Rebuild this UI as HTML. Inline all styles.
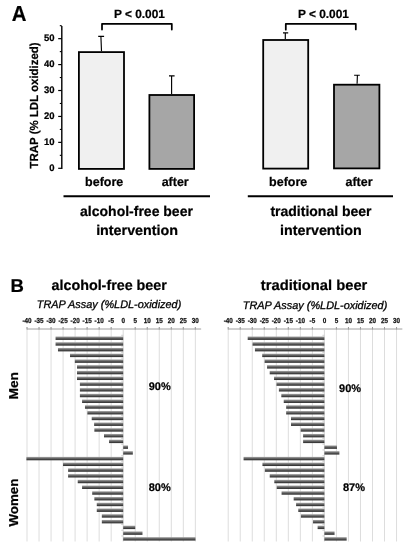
<!DOCTYPE html>
<html><head><meta charset="utf-8"><style>
html,body{margin:0;padding:0;background:#fff;}
svg{display:block;}
text{font-family:'Liberation Sans',Arial,sans-serif;fill:#000;text-rendering:geometricPrecision;}
.b{font-weight:bold;}
.b,.lab,.grp,.pv,.pc,.yt{stroke:#000;stroke-width:0.22px;}
.tk{font-weight:bold;font-size:7.2px;text-anchor:middle;fill:#111;stroke:#111;stroke-width:0.25px;}
.yt{font-weight:bold;font-size:9.5px;text-anchor:end;}
.lab{font-weight:bold;font-size:12.5px;text-anchor:middle;}
.grp{font-weight:bold;font-size:14px;text-anchor:middle;}
.pv{font-weight:bold;font-size:12px;text-anchor:middle;}
.it{font-style:italic;font-size:11.1px;stroke:#000;stroke-width:0.3px;}
.pc{font-weight:bold;font-size:11px;}
</style></head><body>
<svg width="410" height="550" viewBox="0 0 410 550">
<defs>
<linearGradient id="bg" x1="0" y1="0" x2="0" y2="1">
<stop offset="0" stop-color="#a8a8a8"/><stop offset="0.45" stop-color="#666"/><stop offset="1" stop-color="#262626"/>
</linearGradient>
</defs>
<rect width="410" height="550" fill="#fff"/>
<!-- Panel A -->
<text x="11.8" y="20.7" class="b" style="font-size:21.8px" textLength="14.7" lengthAdjust="spacingAndGlyphs">A</text>
<!-- y axis -->
<line x1="61.8" y1="26" x2="61.8" y2="168.9" stroke="#000" stroke-width="1.4"/>
<line x1="58.2" y1="168.30" x2="61.7" y2="168.30" stroke="#000" stroke-width="1.2"/>
<text x="54.6" y="171.10" class="yt">0</text>
<line x1="58.2" y1="142.37" x2="61.7" y2="142.37" stroke="#000" stroke-width="1.2"/>
<text x="54.6" y="145.17" class="yt">10</text>
<line x1="58.2" y1="116.44" x2="61.7" y2="116.44" stroke="#000" stroke-width="1.2"/>
<text x="54.6" y="119.24" class="yt">20</text>
<line x1="58.2" y1="90.51" x2="61.7" y2="90.51" stroke="#000" stroke-width="1.2"/>
<text x="54.6" y="93.31" class="yt">30</text>
<line x1="58.2" y1="64.58" x2="61.7" y2="64.58" stroke="#000" stroke-width="1.2"/>
<text x="54.6" y="67.38" class="yt">40</text>
<line x1="58.2" y1="38.65" x2="61.7" y2="38.65" stroke="#000" stroke-width="1.2"/>
<text x="54.6" y="41.45" class="yt">50</text>
<line x1="59.8" y1="155.34" x2="61.7" y2="155.34" stroke="#000" stroke-width="1.1"/>
<line x1="59.8" y1="129.41" x2="61.7" y2="129.41" stroke="#000" stroke-width="1.1"/>
<line x1="59.8" y1="103.48" x2="61.7" y2="103.48" stroke="#000" stroke-width="1.1"/>
<line x1="59.8" y1="77.55" x2="61.7" y2="77.55" stroke="#000" stroke-width="1.1"/>
<line x1="59.8" y1="51.62" x2="61.7" y2="51.62" stroke="#000" stroke-width="1.1"/>
<line x1="59.8" y1="25.69" x2="61.7" y2="25.69" stroke="#000" stroke-width="1.1"/>
<text transform="translate(37.8,105.4) rotate(-90)" class="b" style="font-size:11.7px;text-anchor:middle" textLength="126" lengthAdjust="spacingAndGlyphs">TRAP (% LDL oxidized)</text>
<!-- bars -->
<rect x="78.9" y="52.1" width="45.1" height="116.8" fill="#f0f0f0" stroke="#000" stroke-width="1.8"/>
<rect x="149.4" y="95" width="44.7" height="73.9" fill="#a6a6a6" stroke="#000" stroke-width="1.8"/>
<rect x="263.2" y="40" width="45" height="128.6" fill="#f0f0f0" stroke="#000" stroke-width="1.8"/>
<rect x="334" y="84.7" width="45.4" height="83.7" fill="#a6a6a6" stroke="#000" stroke-width="1.8"/>
<!-- error bars -->
<g stroke="#000" stroke-width="1.15" fill="none">
<path d="M101.5 51.2L100.9 36.3M98.2 36.3H104.1"/>
<path d="M171.6 94.1V75.9M169 75.9H174.6"/>
<path d="M285.3 39.1V32.8M283 32.8H288.2"/>
<path d="M357.1 83.8L357.4 75.2M354.1 75.2H359.8"/>
</g>
<!-- brackets -->
<g stroke="#000" stroke-width="1.75" fill="none" stroke-linejoin="round" stroke-linecap="round">
<path d="M102 29.6V23.75H171.8V29.5"/>
<path d="M285.8 29.7V23.8H355.8V29.4"/>
</g>
<text x="139.4" y="17.8" class="pv" textLength="51" lengthAdjust="spacingAndGlyphs">P &lt; 0.001</text>
<text x="323.4" y="17.8" class="pv" textLength="51" lengthAdjust="spacingAndGlyphs">P &lt; 0.001</text>
<!-- category labels -->
<text x="104.2" y="186" class="lab">before</text>
<text x="175.2" y="186" class="lab">after</text>
<text x="288.2" y="186" class="lab">before</text>
<text x="359" y="186" class="lab">after</text>
<g stroke="#000" stroke-width="2">
<line x1="63.5" y1="196.2" x2="210" y2="196.2"/>
<line x1="247.8" y1="196.2" x2="393" y2="196.2"/>
</g>
<text x="136.5" y="216.2" class="grp">alcohol-free beer</text>
<text x="137.1" y="235.1" class="grp" textLength="81.9" lengthAdjust="spacingAndGlyphs">intervention</text>
<text x="321" y="216.2" class="grp">traditional beer</text>
<text x="320.9" y="235.1" class="grp" textLength="81.9" lengthAdjust="spacingAndGlyphs">intervention</text>
<!-- Panel B -->
<text x="10.6" y="292" class="b" style="font-size:18.5px">B</text>
<text x="109.2" y="290" class="b" style="font-size:14.3px;text-anchor:middle">alcohol-free beer</text>
<text x="314.1" y="290.3" class="b" style="font-size:14.5px;text-anchor:middle" textLength="106.5" lengthAdjust="spacingAndGlyphs">traditional beer</text>
<text x="36.8" y="308" class="it" textLength="144.5" lengthAdjust="spacingAndGlyphs">TRAP Assay (%LDL-oxidized)</text>
<text x="242.8" y="308.5" class="it" textLength="144.5" lengthAdjust="spacingAndGlyphs">TRAP Assay (%LDL-oxidized)</text>
<text transform="translate(17.9,385.75) rotate(-90)" class="b" style="font-size:12.9px;text-anchor:middle" textLength="27.6" lengthAdjust="spacingAndGlyphs">Men</text>
<text transform="translate(17.9,502.6) rotate(-90)" class="b" style="font-size:12.9px;text-anchor:middle" textLength="48" lengthAdjust="spacingAndGlyphs">Women</text>
<line x1="27.00" y1="327" x2="27.00" y2="541.5" stroke="#dddddd" stroke-width="1"/>
<line x1="27.00" y1="327" x2="27.00" y2="329.5" stroke="#9a9a9a" stroke-width="1"/>
<line x1="39.03" y1="327" x2="39.03" y2="541.5" stroke="#dddddd" stroke-width="1"/>
<line x1="39.03" y1="327" x2="39.03" y2="329.5" stroke="#9a9a9a" stroke-width="1"/>
<line x1="51.05" y1="327" x2="51.05" y2="541.5" stroke="#dddddd" stroke-width="1"/>
<line x1="51.05" y1="327" x2="51.05" y2="329.5" stroke="#9a9a9a" stroke-width="1"/>
<line x1="63.08" y1="327" x2="63.08" y2="541.5" stroke="#dddddd" stroke-width="1"/>
<line x1="63.08" y1="327" x2="63.08" y2="329.5" stroke="#9a9a9a" stroke-width="1"/>
<line x1="75.10" y1="327" x2="75.10" y2="541.5" stroke="#dddddd" stroke-width="1"/>
<line x1="75.10" y1="327" x2="75.10" y2="329.5" stroke="#9a9a9a" stroke-width="1"/>
<line x1="87.12" y1="327" x2="87.12" y2="541.5" stroke="#dddddd" stroke-width="1"/>
<line x1="87.12" y1="327" x2="87.12" y2="329.5" stroke="#9a9a9a" stroke-width="1"/>
<line x1="99.15" y1="327" x2="99.15" y2="541.5" stroke="#dddddd" stroke-width="1"/>
<line x1="99.15" y1="327" x2="99.15" y2="329.5" stroke="#9a9a9a" stroke-width="1"/>
<line x1="111.18" y1="327" x2="111.18" y2="541.5" stroke="#dddddd" stroke-width="1"/>
<line x1="111.18" y1="327" x2="111.18" y2="329.5" stroke="#9a9a9a" stroke-width="1"/>
<line x1="135.22" y1="327" x2="135.22" y2="541.5" stroke="#dddddd" stroke-width="1"/>
<line x1="135.22" y1="327" x2="135.22" y2="329.5" stroke="#9a9a9a" stroke-width="1"/>
<line x1="147.25" y1="327" x2="147.25" y2="541.5" stroke="#dddddd" stroke-width="1"/>
<line x1="147.25" y1="327" x2="147.25" y2="329.5" stroke="#9a9a9a" stroke-width="1"/>
<line x1="159.28" y1="327" x2="159.28" y2="541.5" stroke="#dddddd" stroke-width="1"/>
<line x1="159.28" y1="327" x2="159.28" y2="329.5" stroke="#9a9a9a" stroke-width="1"/>
<line x1="171.30" y1="327" x2="171.30" y2="541.5" stroke="#dddddd" stroke-width="1"/>
<line x1="171.30" y1="327" x2="171.30" y2="329.5" stroke="#9a9a9a" stroke-width="1"/>
<line x1="183.32" y1="327" x2="183.32" y2="541.5" stroke="#dddddd" stroke-width="1"/>
<line x1="183.32" y1="327" x2="183.32" y2="329.5" stroke="#9a9a9a" stroke-width="1"/>
<line x1="195.35" y1="327" x2="195.35" y2="541.5" stroke="#dddddd" stroke-width="1"/>
<line x1="195.35" y1="327" x2="195.35" y2="329.5" stroke="#9a9a9a" stroke-width="1"/>
<line x1="27.00" y1="329.0" x2="201.15" y2="329.0" stroke="#a0a0a0" stroke-width="1"/>
<line x1="123.20" y1="329.0" x2="123.20" y2="541.5" stroke="#cfcfcf" stroke-width="0.8"/>
<line x1="121.20" y1="335.30" x2="123.20" y2="335.30" stroke="#c0c0c0" stroke-width="0.7"/>
<line x1="121.20" y1="341.03" x2="123.20" y2="341.03" stroke="#c0c0c0" stroke-width="0.7"/>
<line x1="121.20" y1="346.77" x2="123.20" y2="346.77" stroke="#c0c0c0" stroke-width="0.7"/>
<line x1="121.20" y1="352.50" x2="123.20" y2="352.50" stroke="#c0c0c0" stroke-width="0.7"/>
<line x1="121.20" y1="358.23" x2="123.20" y2="358.23" stroke="#c0c0c0" stroke-width="0.7"/>
<line x1="121.20" y1="363.97" x2="123.20" y2="363.97" stroke="#c0c0c0" stroke-width="0.7"/>
<line x1="121.20" y1="369.70" x2="123.20" y2="369.70" stroke="#c0c0c0" stroke-width="0.7"/>
<line x1="121.20" y1="375.43" x2="123.20" y2="375.43" stroke="#c0c0c0" stroke-width="0.7"/>
<line x1="121.20" y1="381.16" x2="123.20" y2="381.16" stroke="#c0c0c0" stroke-width="0.7"/>
<line x1="121.20" y1="386.90" x2="123.20" y2="386.90" stroke="#c0c0c0" stroke-width="0.7"/>
<line x1="121.20" y1="392.63" x2="123.20" y2="392.63" stroke="#c0c0c0" stroke-width="0.7"/>
<line x1="121.20" y1="398.36" x2="123.20" y2="398.36" stroke="#c0c0c0" stroke-width="0.7"/>
<line x1="121.20" y1="404.10" x2="123.20" y2="404.10" stroke="#c0c0c0" stroke-width="0.7"/>
<line x1="121.20" y1="409.83" x2="123.20" y2="409.83" stroke="#c0c0c0" stroke-width="0.7"/>
<line x1="121.20" y1="415.56" x2="123.20" y2="415.56" stroke="#c0c0c0" stroke-width="0.7"/>
<line x1="121.20" y1="421.30" x2="123.20" y2="421.30" stroke="#c0c0c0" stroke-width="0.7"/>
<line x1="121.20" y1="427.03" x2="123.20" y2="427.03" stroke="#c0c0c0" stroke-width="0.7"/>
<line x1="121.20" y1="432.76" x2="123.20" y2="432.76" stroke="#c0c0c0" stroke-width="0.7"/>
<line x1="121.20" y1="438.49" x2="123.20" y2="438.49" stroke="#c0c0c0" stroke-width="0.7"/>
<line x1="121.20" y1="444.23" x2="123.20" y2="444.23" stroke="#c0c0c0" stroke-width="0.7"/>
<line x1="121.20" y1="449.96" x2="123.20" y2="449.96" stroke="#c0c0c0" stroke-width="0.7"/>
<line x1="121.20" y1="455.69" x2="123.20" y2="455.69" stroke="#c0c0c0" stroke-width="0.7"/>
<line x1="121.20" y1="461.43" x2="123.20" y2="461.43" stroke="#c0c0c0" stroke-width="0.7"/>
<line x1="121.20" y1="467.16" x2="123.20" y2="467.16" stroke="#c0c0c0" stroke-width="0.7"/>
<line x1="121.20" y1="472.89" x2="123.20" y2="472.89" stroke="#c0c0c0" stroke-width="0.7"/>
<line x1="121.20" y1="478.62" x2="123.20" y2="478.62" stroke="#c0c0c0" stroke-width="0.7"/>
<line x1="121.20" y1="484.36" x2="123.20" y2="484.36" stroke="#c0c0c0" stroke-width="0.7"/>
<line x1="121.20" y1="490.09" x2="123.20" y2="490.09" stroke="#c0c0c0" stroke-width="0.7"/>
<line x1="121.20" y1="495.82" x2="123.20" y2="495.82" stroke="#c0c0c0" stroke-width="0.7"/>
<line x1="121.20" y1="501.56" x2="123.20" y2="501.56" stroke="#c0c0c0" stroke-width="0.7"/>
<line x1="121.20" y1="507.29" x2="123.20" y2="507.29" stroke="#c0c0c0" stroke-width="0.7"/>
<line x1="121.20" y1="513.02" x2="123.20" y2="513.02" stroke="#c0c0c0" stroke-width="0.7"/>
<line x1="121.20" y1="518.76" x2="123.20" y2="518.76" stroke="#c0c0c0" stroke-width="0.7"/>
<line x1="121.20" y1="524.49" x2="123.20" y2="524.49" stroke="#c0c0c0" stroke-width="0.7"/>
<line x1="121.20" y1="530.22" x2="123.20" y2="530.22" stroke="#c0c0c0" stroke-width="0.7"/>
<line x1="121.20" y1="535.96" x2="123.20" y2="535.96" stroke="#c0c0c0" stroke-width="0.7"/>
<rect x="55.56" y="336.50" width="67.64" height="3.4" fill="url(#bg)"/>
<rect x="55.56" y="342.23" width="67.64" height="3.4" fill="url(#bg)"/>
<rect x="57.97" y="347.97" width="65.23" height="3.4" fill="url(#bg)"/>
<rect x="70.02" y="353.70" width="53.18" height="3.4" fill="url(#bg)"/>
<rect x="74.84" y="359.43" width="48.36" height="3.4" fill="url(#bg)"/>
<rect x="77.01" y="365.17" width="46.19" height="3.4" fill="url(#bg)"/>
<rect x="77.01" y="370.90" width="46.19" height="3.4" fill="url(#bg)"/>
<rect x="77.01" y="376.63" width="46.19" height="3.4" fill="url(#bg)"/>
<rect x="79.90" y="382.36" width="43.30" height="3.4" fill="url(#bg)"/>
<rect x="79.90" y="388.10" width="43.30" height="3.4" fill="url(#bg)"/>
<rect x="79.90" y="393.83" width="43.30" height="3.4" fill="url(#bg)"/>
<rect x="82.07" y="399.56" width="41.13" height="3.4" fill="url(#bg)"/>
<rect x="84.96" y="405.30" width="38.24" height="3.4" fill="url(#bg)"/>
<rect x="87.37" y="411.03" width="35.83" height="3.4" fill="url(#bg)"/>
<rect x="91.71" y="416.76" width="31.49" height="3.4" fill="url(#bg)"/>
<rect x="94.12" y="422.50" width="29.08" height="3.4" fill="url(#bg)"/>
<rect x="94.36" y="428.23" width="28.84" height="3.4" fill="url(#bg)"/>
<rect x="104.00" y="433.96" width="19.20" height="3.4" fill="url(#bg)"/>
<rect x="109.06" y="439.69" width="14.14" height="3.4" fill="url(#bg)"/>
<rect x="123.20" y="445.43" width="4.82" height="3.4" fill="url(#bg)"/>
<rect x="123.20" y="451.16" width="9.64" height="3.4" fill="url(#bg)"/>
<rect x="26.40" y="456.89" width="96.80" height="3.4" fill="url(#bg)"/>
<rect x="63.03" y="462.63" width="60.17" height="3.4" fill="url(#bg)"/>
<rect x="68.09" y="468.36" width="55.11" height="3.4" fill="url(#bg)"/>
<rect x="68.09" y="474.09" width="55.11" height="3.4" fill="url(#bg)"/>
<rect x="77.73" y="479.82" width="45.47" height="3.4" fill="url(#bg)"/>
<rect x="82.07" y="485.56" width="41.13" height="3.4" fill="url(#bg)"/>
<rect x="92.19" y="491.29" width="31.01" height="3.4" fill="url(#bg)"/>
<rect x="94.36" y="497.02" width="28.84" height="3.4" fill="url(#bg)"/>
<rect x="96.77" y="502.76" width="26.43" height="3.4" fill="url(#bg)"/>
<rect x="96.77" y="508.49" width="26.43" height="3.4" fill="url(#bg)"/>
<rect x="101.83" y="514.22" width="21.37" height="3.4" fill="url(#bg)"/>
<rect x="101.83" y="519.96" width="21.37" height="3.4" fill="url(#bg)"/>
<rect x="123.20" y="525.69" width="12.05" height="3.4" fill="url(#bg)"/>
<rect x="123.20" y="531.42" width="19.28" height="3.4" fill="url(#bg)"/>
<rect x="123.20" y="537.15" width="72.30" height="3.4" fill="url(#bg)"/>
<text transform="translate(27.00,323) scale(0.88,1)" class="tk">-40</text>
<text transform="translate(39.03,323) scale(0.88,1)" class="tk">-35</text>
<text transform="translate(51.05,323) scale(0.88,1)" class="tk">-30</text>
<text transform="translate(63.08,323) scale(0.88,1)" class="tk">-25</text>
<text transform="translate(75.10,323) scale(0.88,1)" class="tk">-20</text>
<text transform="translate(87.12,323) scale(0.88,1)" class="tk">-15</text>
<text transform="translate(99.15,323) scale(0.88,1)" class="tk">-10</text>
<text transform="translate(111.18,323) scale(0.88,1)" class="tk">-5</text>
<text transform="translate(123.20,323) scale(0.88,1)" class="tk">0</text>
<text transform="translate(135.22,323) scale(0.88,1)" class="tk">5</text>
<text transform="translate(147.25,323) scale(0.88,1)" class="tk">10</text>
<text transform="translate(159.28,323) scale(0.88,1)" class="tk">15</text>
<text transform="translate(171.30,323) scale(0.88,1)" class="tk">20</text>
<text transform="translate(183.32,323) scale(0.88,1)" class="tk">25</text>
<text transform="translate(195.35,323) scale(0.88,1)" class="tk">30</text>
<line x1="228.20" y1="327" x2="228.20" y2="541.5" stroke="#dddddd" stroke-width="1"/>
<line x1="228.20" y1="327" x2="228.20" y2="329.5" stroke="#9a9a9a" stroke-width="1"/>
<line x1="240.22" y1="327" x2="240.22" y2="541.5" stroke="#dddddd" stroke-width="1"/>
<line x1="240.22" y1="327" x2="240.22" y2="329.5" stroke="#9a9a9a" stroke-width="1"/>
<line x1="252.25" y1="327" x2="252.25" y2="541.5" stroke="#dddddd" stroke-width="1"/>
<line x1="252.25" y1="327" x2="252.25" y2="329.5" stroke="#9a9a9a" stroke-width="1"/>
<line x1="264.27" y1="327" x2="264.27" y2="541.5" stroke="#dddddd" stroke-width="1"/>
<line x1="264.27" y1="327" x2="264.27" y2="329.5" stroke="#9a9a9a" stroke-width="1"/>
<line x1="276.30" y1="327" x2="276.30" y2="541.5" stroke="#dddddd" stroke-width="1"/>
<line x1="276.30" y1="327" x2="276.30" y2="329.5" stroke="#9a9a9a" stroke-width="1"/>
<line x1="288.32" y1="327" x2="288.32" y2="541.5" stroke="#dddddd" stroke-width="1"/>
<line x1="288.32" y1="327" x2="288.32" y2="329.5" stroke="#9a9a9a" stroke-width="1"/>
<line x1="300.35" y1="327" x2="300.35" y2="541.5" stroke="#dddddd" stroke-width="1"/>
<line x1="300.35" y1="327" x2="300.35" y2="329.5" stroke="#9a9a9a" stroke-width="1"/>
<line x1="312.38" y1="327" x2="312.38" y2="541.5" stroke="#dddddd" stroke-width="1"/>
<line x1="312.38" y1="327" x2="312.38" y2="329.5" stroke="#9a9a9a" stroke-width="1"/>
<line x1="336.42" y1="327" x2="336.42" y2="541.5" stroke="#dddddd" stroke-width="1"/>
<line x1="336.42" y1="327" x2="336.42" y2="329.5" stroke="#9a9a9a" stroke-width="1"/>
<line x1="348.45" y1="327" x2="348.45" y2="541.5" stroke="#dddddd" stroke-width="1"/>
<line x1="348.45" y1="327" x2="348.45" y2="329.5" stroke="#9a9a9a" stroke-width="1"/>
<line x1="360.47" y1="327" x2="360.47" y2="541.5" stroke="#dddddd" stroke-width="1"/>
<line x1="360.47" y1="327" x2="360.47" y2="329.5" stroke="#9a9a9a" stroke-width="1"/>
<line x1="372.50" y1="327" x2="372.50" y2="541.5" stroke="#dddddd" stroke-width="1"/>
<line x1="372.50" y1="327" x2="372.50" y2="329.5" stroke="#9a9a9a" stroke-width="1"/>
<line x1="384.52" y1="327" x2="384.52" y2="541.5" stroke="#dddddd" stroke-width="1"/>
<line x1="384.52" y1="327" x2="384.52" y2="329.5" stroke="#9a9a9a" stroke-width="1"/>
<line x1="396.55" y1="327" x2="396.55" y2="541.5" stroke="#dddddd" stroke-width="1"/>
<line x1="396.55" y1="327" x2="396.55" y2="329.5" stroke="#9a9a9a" stroke-width="1"/>
<line x1="228.20" y1="329.0" x2="402.35" y2="329.0" stroke="#a0a0a0" stroke-width="1"/>
<line x1="324.40" y1="329.0" x2="324.40" y2="541.5" stroke="#cfcfcf" stroke-width="0.8"/>
<line x1="322.40" y1="335.30" x2="324.40" y2="335.30" stroke="#c0c0c0" stroke-width="0.7"/>
<line x1="322.40" y1="341.03" x2="324.40" y2="341.03" stroke="#c0c0c0" stroke-width="0.7"/>
<line x1="322.40" y1="346.77" x2="324.40" y2="346.77" stroke="#c0c0c0" stroke-width="0.7"/>
<line x1="322.40" y1="352.50" x2="324.40" y2="352.50" stroke="#c0c0c0" stroke-width="0.7"/>
<line x1="322.40" y1="358.23" x2="324.40" y2="358.23" stroke="#c0c0c0" stroke-width="0.7"/>
<line x1="322.40" y1="363.97" x2="324.40" y2="363.97" stroke="#c0c0c0" stroke-width="0.7"/>
<line x1="322.40" y1="369.70" x2="324.40" y2="369.70" stroke="#c0c0c0" stroke-width="0.7"/>
<line x1="322.40" y1="375.43" x2="324.40" y2="375.43" stroke="#c0c0c0" stroke-width="0.7"/>
<line x1="322.40" y1="381.16" x2="324.40" y2="381.16" stroke="#c0c0c0" stroke-width="0.7"/>
<line x1="322.40" y1="386.90" x2="324.40" y2="386.90" stroke="#c0c0c0" stroke-width="0.7"/>
<line x1="322.40" y1="392.63" x2="324.40" y2="392.63" stroke="#c0c0c0" stroke-width="0.7"/>
<line x1="322.40" y1="398.36" x2="324.40" y2="398.36" stroke="#c0c0c0" stroke-width="0.7"/>
<line x1="322.40" y1="404.10" x2="324.40" y2="404.10" stroke="#c0c0c0" stroke-width="0.7"/>
<line x1="322.40" y1="409.83" x2="324.40" y2="409.83" stroke="#c0c0c0" stroke-width="0.7"/>
<line x1="322.40" y1="415.56" x2="324.40" y2="415.56" stroke="#c0c0c0" stroke-width="0.7"/>
<line x1="322.40" y1="421.30" x2="324.40" y2="421.30" stroke="#c0c0c0" stroke-width="0.7"/>
<line x1="322.40" y1="427.03" x2="324.40" y2="427.03" stroke="#c0c0c0" stroke-width="0.7"/>
<line x1="322.40" y1="432.76" x2="324.40" y2="432.76" stroke="#c0c0c0" stroke-width="0.7"/>
<line x1="322.40" y1="438.49" x2="324.40" y2="438.49" stroke="#c0c0c0" stroke-width="0.7"/>
<line x1="322.40" y1="444.23" x2="324.40" y2="444.23" stroke="#c0c0c0" stroke-width="0.7"/>
<line x1="322.40" y1="449.96" x2="324.40" y2="449.96" stroke="#c0c0c0" stroke-width="0.7"/>
<line x1="322.40" y1="455.69" x2="324.40" y2="455.69" stroke="#c0c0c0" stroke-width="0.7"/>
<line x1="322.40" y1="461.43" x2="324.40" y2="461.43" stroke="#c0c0c0" stroke-width="0.7"/>
<line x1="322.40" y1="467.16" x2="324.40" y2="467.16" stroke="#c0c0c0" stroke-width="0.7"/>
<line x1="322.40" y1="472.89" x2="324.40" y2="472.89" stroke="#c0c0c0" stroke-width="0.7"/>
<line x1="322.40" y1="478.62" x2="324.40" y2="478.62" stroke="#c0c0c0" stroke-width="0.7"/>
<line x1="322.40" y1="484.36" x2="324.40" y2="484.36" stroke="#c0c0c0" stroke-width="0.7"/>
<line x1="322.40" y1="490.09" x2="324.40" y2="490.09" stroke="#c0c0c0" stroke-width="0.7"/>
<line x1="322.40" y1="495.82" x2="324.40" y2="495.82" stroke="#c0c0c0" stroke-width="0.7"/>
<line x1="322.40" y1="501.56" x2="324.40" y2="501.56" stroke="#c0c0c0" stroke-width="0.7"/>
<line x1="322.40" y1="507.29" x2="324.40" y2="507.29" stroke="#c0c0c0" stroke-width="0.7"/>
<line x1="322.40" y1="513.02" x2="324.40" y2="513.02" stroke="#c0c0c0" stroke-width="0.7"/>
<line x1="322.40" y1="518.76" x2="324.40" y2="518.76" stroke="#c0c0c0" stroke-width="0.7"/>
<line x1="322.40" y1="524.49" x2="324.40" y2="524.49" stroke="#c0c0c0" stroke-width="0.7"/>
<line x1="322.40" y1="530.22" x2="324.40" y2="530.22" stroke="#c0c0c0" stroke-width="0.7"/>
<line x1="322.40" y1="535.96" x2="324.40" y2="535.96" stroke="#c0c0c0" stroke-width="0.7"/>
<rect x="247.69" y="336.50" width="76.71" height="3.4" fill="url(#bg)"/>
<rect x="252.53" y="342.23" width="71.87" height="3.4" fill="url(#bg)"/>
<rect x="254.95" y="347.97" width="69.45" height="3.4" fill="url(#bg)"/>
<rect x="262.21" y="353.70" width="62.19" height="3.4" fill="url(#bg)"/>
<rect x="264.63" y="359.43" width="59.77" height="3.4" fill="url(#bg)"/>
<rect x="267.05" y="365.17" width="57.35" height="3.4" fill="url(#bg)"/>
<rect x="269.71" y="370.90" width="54.69" height="3.4" fill="url(#bg)"/>
<rect x="274.06" y="376.63" width="50.34" height="3.4" fill="url(#bg)"/>
<rect x="276.48" y="382.36" width="47.92" height="3.4" fill="url(#bg)"/>
<rect x="278.90" y="388.10" width="45.50" height="3.4" fill="url(#bg)"/>
<rect x="281.32" y="393.83" width="43.08" height="3.4" fill="url(#bg)"/>
<rect x="283.74" y="399.56" width="40.66" height="3.4" fill="url(#bg)"/>
<rect x="286.16" y="405.30" width="38.24" height="3.4" fill="url(#bg)"/>
<rect x="286.16" y="411.03" width="38.24" height="3.4" fill="url(#bg)"/>
<rect x="291.00" y="416.76" width="33.40" height="3.4" fill="url(#bg)"/>
<rect x="291.00" y="422.50" width="33.40" height="3.4" fill="url(#bg)"/>
<rect x="300.68" y="428.23" width="23.72" height="3.4" fill="url(#bg)"/>
<rect x="303.10" y="433.96" width="21.30" height="3.4" fill="url(#bg)"/>
<rect x="303.10" y="439.69" width="21.30" height="3.4" fill="url(#bg)"/>
<rect x="324.40" y="445.43" width="12.58" height="3.4" fill="url(#bg)"/>
<rect x="324.40" y="451.16" width="15.00" height="3.4" fill="url(#bg)"/>
<rect x="243.57" y="456.89" width="80.83" height="3.4" fill="url(#bg)"/>
<rect x="262.45" y="462.63" width="61.95" height="3.4" fill="url(#bg)"/>
<rect x="264.87" y="468.36" width="59.53" height="3.4" fill="url(#bg)"/>
<rect x="269.71" y="474.09" width="54.69" height="3.4" fill="url(#bg)"/>
<rect x="274.31" y="479.82" width="50.09" height="3.4" fill="url(#bg)"/>
<rect x="276.73" y="485.56" width="47.67" height="3.4" fill="url(#bg)"/>
<rect x="281.57" y="491.29" width="42.83" height="3.4" fill="url(#bg)"/>
<rect x="293.67" y="497.02" width="30.73" height="3.4" fill="url(#bg)"/>
<rect x="296.09" y="502.76" width="28.31" height="3.4" fill="url(#bg)"/>
<rect x="298.26" y="508.49" width="26.14" height="3.4" fill="url(#bg)"/>
<rect x="300.93" y="514.22" width="23.47" height="3.4" fill="url(#bg)"/>
<rect x="313.03" y="519.96" width="11.37" height="3.4" fill="url(#bg)"/>
<rect x="317.62" y="525.69" width="6.78" height="3.4" fill="url(#bg)"/>
<rect x="324.40" y="531.42" width="10.16" height="3.4" fill="url(#bg)"/>
<rect x="324.40" y="537.15" width="22.26" height="3.4" fill="url(#bg)"/>
<text transform="translate(228.20,323) scale(0.88,1)" class="tk">-40</text>
<text transform="translate(240.22,323) scale(0.88,1)" class="tk">-35</text>
<text transform="translate(252.25,323) scale(0.88,1)" class="tk">-30</text>
<text transform="translate(264.27,323) scale(0.88,1)" class="tk">-25</text>
<text transform="translate(276.30,323) scale(0.88,1)" class="tk">-20</text>
<text transform="translate(288.32,323) scale(0.88,1)" class="tk">-15</text>
<text transform="translate(300.35,323) scale(0.88,1)" class="tk">-10</text>
<text transform="translate(312.38,323) scale(0.88,1)" class="tk">-5</text>
<text transform="translate(324.40,323) scale(0.88,1)" class="tk">0</text>
<text transform="translate(336.42,323) scale(0.88,1)" class="tk">5</text>
<text transform="translate(348.45,323) scale(0.88,1)" class="tk">10</text>
<text transform="translate(360.47,323) scale(0.88,1)" class="tk">15</text>
<text transform="translate(372.50,323) scale(0.88,1)" class="tk">20</text>
<text transform="translate(384.52,323) scale(0.88,1)" class="tk">25</text>
<text transform="translate(396.55,323) scale(0.88,1)" class="tk">30</text>
<text x="148.7" y="390" class="pc">90%</text>
<text x="148.7" y="490.5" class="pc">80%</text>
<text x="339.1" y="392.4" class="pc">90%</text>
<text x="342.9" y="490.8" class="pc">87%</text>
</svg>
</body></html>
